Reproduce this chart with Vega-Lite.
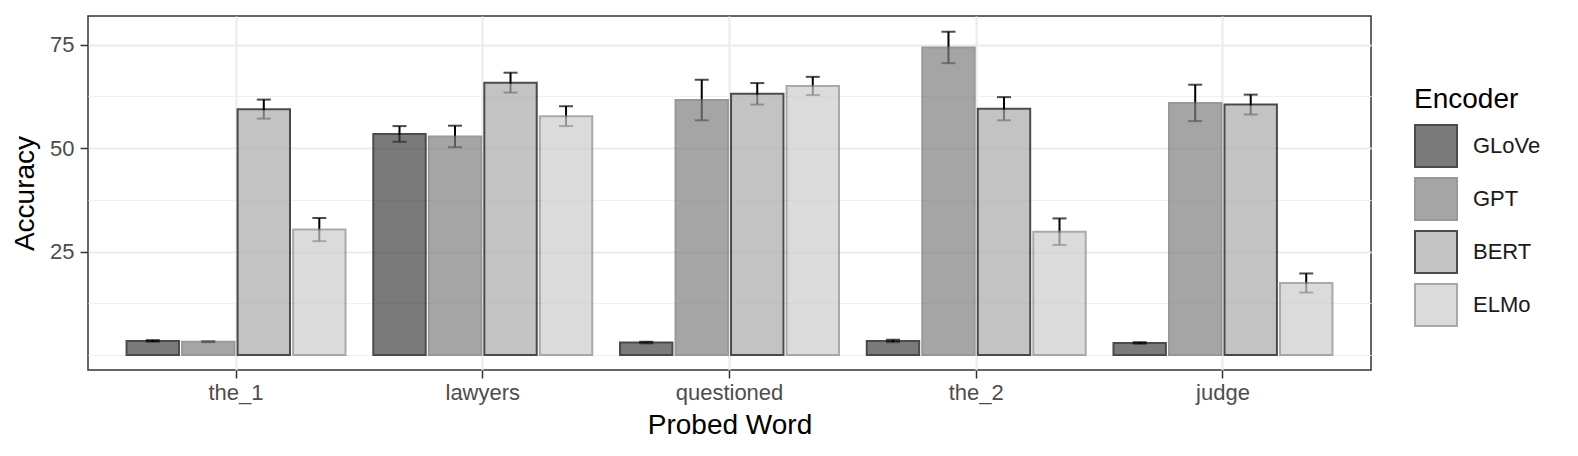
{
  "$schema": "https://vega.github.io/schema/vega-lite/v6.json",
  "autosize": {"type": "none"},
  "padding": {"left": 88, "top": 16, "right": 207, "bottom": 86},
  "width": 1283,
  "height": 354,
  "background": "white",
  "config": {
    "font": "Liberation Sans",
    "view": {"stroke": "#333333", "strokeWidth": 1.5}
  },
  "data": {
    "values": [
      {"word": "the_1", "encoder": "GLoVe", "acc": 3.4, "lo": 3.2, "hi": 3.6},
      {"word": "the_1", "encoder": "GPT", "acc": 3.2, "lo": 3.1, "hi": 3.3},
      {"word": "the_1", "encoder": "BERT", "acc": 59.4, "lo": 57.1, "hi": 61.7},
      {"word": "the_1", "encoder": "ELMo", "acc": 30.3, "lo": 27.5, "hi": 33.1},
      {"word": "lawyers", "encoder": "GLoVe", "acc": 53.4, "lo": 51.5, "hi": 55.3},
      {"word": "lawyers", "encoder": "GPT", "acc": 52.8, "lo": 50.2, "hi": 55.4},
      {"word": "lawyers", "encoder": "BERT", "acc": 65.8, "lo": 63.4, "hi": 68.2},
      {"word": "lawyers", "encoder": "ELMo", "acc": 57.7, "lo": 55.3, "hi": 60.1},
      {"word": "questioned", "encoder": "GLoVe", "acc": 3.0, "lo": 2.8, "hi": 3.2},
      {"word": "questioned", "encoder": "GPT", "acc": 61.6, "lo": 56.7, "hi": 66.5},
      {"word": "questioned", "encoder": "BERT", "acc": 63.1, "lo": 60.5, "hi": 65.7},
      {"word": "questioned", "encoder": "ELMo", "acc": 65.0, "lo": 62.8, "hi": 67.2},
      {"word": "the_2", "encoder": "GLoVe", "acc": 3.4, "lo": 3.1, "hi": 3.7},
      {"word": "the_2", "encoder": "GPT", "acc": 74.3, "lo": 70.5, "hi": 78.1},
      {"word": "the_2", "encoder": "BERT", "acc": 59.5, "lo": 56.7, "hi": 62.3},
      {"word": "the_2", "encoder": "ELMo", "acc": 29.8, "lo": 26.6, "hi": 33.0},
      {"word": "judge", "encoder": "GLoVe", "acc": 2.9, "lo": 2.7, "hi": 3.1},
      {"word": "judge", "encoder": "GPT", "acc": 60.9, "lo": 56.5, "hi": 65.3},
      {"word": "judge", "encoder": "BERT", "acc": 60.5, "lo": 58.1, "hi": 62.9},
      {"word": "judge", "encoder": "ELMo", "acc": 17.4, "lo": 15.1, "hi": 19.7}
    ]
  },
  "encoding": {
    "x": {
      "field": "word",
      "type": "nominal",
      "sort": ["the_1", "lawyers", "questioned", "the_2", "judge"],
      "scale": {"paddingInner": 0.1, "paddingOuter": 0.15},
      "axis": {
        "title": "Probed Word",
        "titleFontSize": 28,
        "titleFontWeight": "normal",
        "titleColor": "#000000",
        "titlePadding": 8,
        "labelFontSize": 22,
        "labelColor": "#4d4d4d",
        "labelAngle": 0,
        "labelPadding": 4,
        "tickSize": 8,
        "tickColor": "#333333",
        "tickWidth": 1.5,
        "bandPosition": 0.5,
        "domain": false,
        "grid": true,
        "gridColor": "#ebebeb",
        "gridWidth": 2
      }
    },
    "xOffset": {
      "field": "encoder",
      "type": "nominal",
      "sort": ["GLoVe", "GPT", "BERT", "ELMo"],
      "scale": {"paddingInner": 0.056, "paddingOuter": 0.028}
    }
  },
  "layer": [
    {
      "mark": {"type": "rule", "color": "#000000", "strokeWidth": 2},
      "encoding": {
        "y": {
          "field": "lo",
          "type": "quantitative",
          "scale": {"domain": [-3.62, 81.9], "nice": false, "zero": false},
          "axis": {
            "orient": "left",
            "values": [0, 12.5, 37.5, 62.5],
            "title": null,
            "labels": false,
            "ticks": false,
            "domain": false,
            "grid": true,
            "gridColor": "#f0f0f0",
            "gridWidth": 1
          }
        },
        "y2": {"field": "hi"}
      }
    },
    {
      "mark": {"type": "tick", "color": "#000000", "size": 14, "thickness": 2},
      "encoding": {
        "y": {"field": "lo", "type": "quantitative", "axis": null}
      }
    },
    {
      "mark": {"type": "tick", "color": "#000000", "size": 14, "thickness": 2},
      "encoding": {
        "y": {"field": "hi", "type": "quantitative", "axis": null}
      }
    },
    {
      "mark": {"type": "bar", "opacity": 0.7, "strokeWidth": 2},
      "encoding": {
        "y": {
          "field": "acc",
          "type": "quantitative",
          "axis": {
            "orient": "left",
            "values": [25, 50, 75],
            "title": "Accuracy",
            "titleFontSize": 28,
            "titleFontWeight": "normal",
            "titleColor": "#000000",
            "titlePadding": 10,
            "labelFontSize": 22,
            "labelColor": "#4d4d4d",
            "labelPadding": 6,
            "tickSize": 8,
            "tickColor": "#333333",
            "tickWidth": 1.5,
            "domain": false,
            "grid": true,
            "gridColor": "#ebebeb",
            "gridWidth": 2
          }
        },
        "y2": {"datum": 0},
        "fill": {
          "field": "encoder",
          "type": "nominal",
          "sort": ["GLoVe", "GPT", "BERT", "ELMo"],
          "scale": {
            "domain": ["GLoVe", "GPT", "BERT", "ELMo"],
            "range": ["#424242", "#808080", "#ababab", "#cdcdcd"]
          },
          "legend": {
            "title": "Encoder",
            "orient": "none",
            "legendX": 1326,
            "legendY": 70,
            "padding": 0,
            "titleFontSize": 28,
            "titleFontWeight": "normal",
            "titleColor": "#000000",
            "titlePadding": 10,
            "labelFontSize": 22,
            "labelColor": "#1a1a1a",
            "labelOffset": 15,
            "symbolType": "square",
            "symbolSize": 1764,
            "symbolStrokeWidth": 2,
            "rowPadding": 3
          }
        },
        "stroke": {
          "field": "encoder",
          "type": "nominal",
          "sort": ["GLoVe", "GPT", "BERT", "ELMo"],
          "scale": {
            "domain": ["GLoVe", "GPT", "BERT", "ELMo"],
            "range": ["#000000", "#6f6f6f", "#000000", "#868686"]
          }
        }
      }
    }
  ],
  "resolve": {"axis": {"y": "independent"}}
}
